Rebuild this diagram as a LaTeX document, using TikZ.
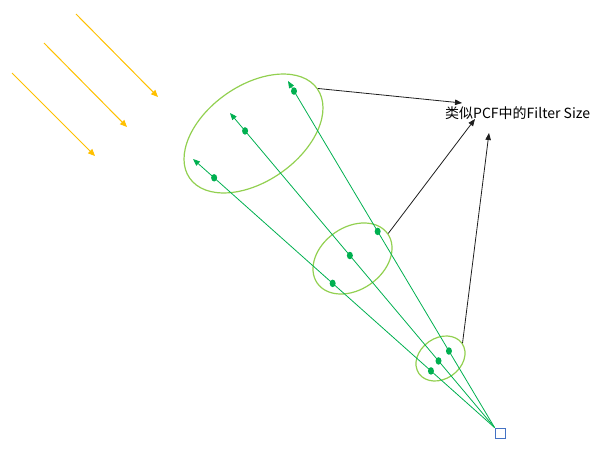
\documentclass[tikz,border=0pt]{standalone}
\usepackage{fontspec}
\newfontfamily\cjk{Noto Sans CJK SC}
\usetikzlibrary{arrows.meta,shapes.geometric}
\definecolor{sun}{RGB}{255,192,0}
\definecolor{ray}{RGB}{0,176,80}
\definecolor{ring}{RGB}{146,208,80}
\definecolor{cambox}{RGB}{68,114,196}
\definecolor{pointer}{RGB}{30,30,30}
\tikzset{
  sunray/.style={draw=sun,line width=1pt,-{Triangle[length=7pt,width=6pt]}},
  viewray/.style={draw=ray,line width=0.8pt,-{Triangle[length=7pt,width=5.5pt]}},
  dot/.style={ellipse,fill=ray,inner sep=0pt,minimum width=6pt,minimum height=7.5pt},
  ring/.style={ellipse,draw=ring,line width=1.2pt,rotate=35,inner sep=0pt},
  pointer/.style={draw=pointer,line width=0.8pt,-{Triangle[length=7pt,width=5.5pt]}},
  camera/.style={rectangle,draw=cambox,fill=white,line width=0.8pt,minimum size=10pt,inner sep=0pt}
}
\begin{document}
\begin{tikzpicture}[x=1pt,y=1pt]
\useasboundingbox (0,0) rectangle (600,-463);
% sun rays
\coordinate (s1a) at (76,-14);  \coordinate (s1b) at (158,-97);
\coordinate (s2a) at (44,-43);  \coordinate (s2b) at (127,-127);
\coordinate (s3a) at (12,-73);  \coordinate (s3b) at (95,-156);
\draw[sunray] (s1a) -- (s1b);
\draw[sunray] (s2a) -- (s2b);
\draw[sunray] (s3a) -- (s3b);
% ellipses
\node[ring,minimum width=155.8pt,minimum height=95.8pt] (big) at (253.5,-133.5) {};
\node[ring,minimum width=86pt,minimum height=62.4pt] (mid) at (352.5,-258.5) {};
\node[ring,minimum width=52.6pt,minimum height=40.8pt] (small) at (440.5,-358.5) {};
% camera
\node[camera] (cam) at (500,-433) {};
% ray tips
\coordinate (ta) at (193,-159);
\coordinate (tb) at (230,-113);
\coordinate (tc) at (288,-81);
\draw[viewray] (cam.north west) -- (ta)
  node[dot,pos=0.211] (a1) {} node[dot,pos=0.537] (a2) {} node[dot,pos=0.930] (a3) {};
\draw[viewray] (cam.north west) -- (tb)
  node[dot,pos=0.212] (b1) {} node[dot,pos=0.547] (b2) {} node[dot,pos=0.943] (b3) {};
\draw[viewray] (cam.north west) -- (tc)
  node[dot,pos=0.221] (c1) {} node[dot,pos=0.566] (c2) {} node[dot,pos=0.971] (c3) {};
\node[camera] at (cam) {};
% label
\node[font=\cjk\fontsize{14}{16}\selectfont,anchor=west,inner sep=0pt] (lbl) at (445,-113) {类似PCF中的Filter Size};
\coordinate (p1) at (462,-103);
\coordinate (p2) at (475,-119);
\coordinate (p3) at (489,-133);
\draw[pointer] (big.east) -- (p1);
\draw[pointer] (mid.east) -- (p2);
\draw[pointer] (small.east) -- (p3);
\end{tikzpicture}
\end{document}
